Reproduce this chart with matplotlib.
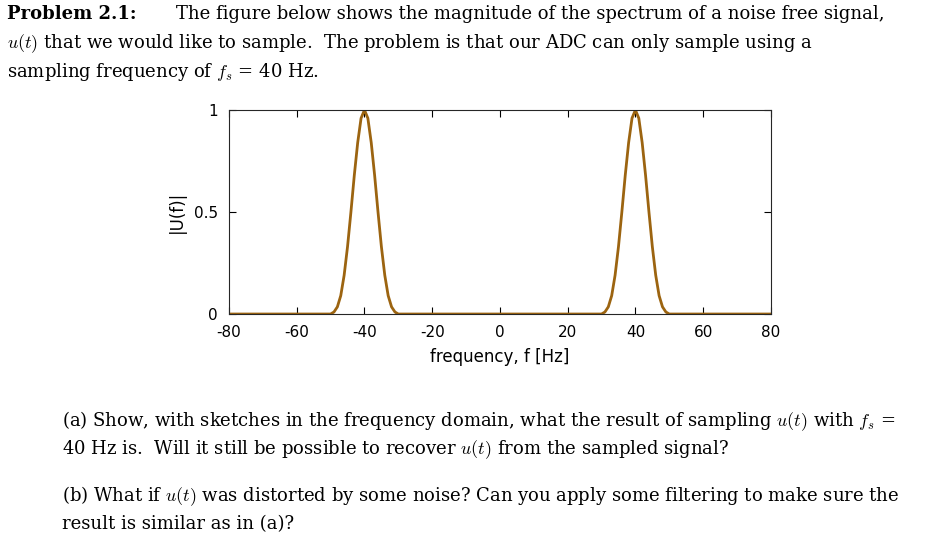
import matplotlib
matplotlib.use("Agg")
import matplotlib.pyplot as plt

freq = [-80, -50, -49, -48, -47, -46, -45, -44, -43, -42, -41, -40, -39, -38, -37, -36, -35, -34, -33, -32, -31, -30,
        30, 31, 32, 33, 34, 35, 36, 37, 38, 39, 40, 41, 42, 43, 44, 45, 46, 47, 48, 49, 50, 80]
mag = [0, 0, 0.01, 0.035, 0.09, 0.19, 0.33, 0.5, 0.68, 0.84, 0.96, 1.0, 0.96, 0.84, 0.68, 0.5, 0.33, 0.19, 0.09, 0.035, 0.01, 0,
       0, 0.01, 0.035, 0.09, 0.19, 0.33, 0.5, 0.68, 0.84, 0.96, 1.0, 0.96, 0.84, 0.68, 0.5, 0.33, 0.19, 0.09, 0.035, 0.01, 0, 0]
xticks = [-80, -60, -40, -20, 0, 20, 40, 60, 80]
yticks = [0, 0.5, 1]

plt.rcParams['mathtext.fontset'] = 'cm'
fig = plt.figure(figsize=(9.49, 5.43), dpi=100)
ax = fig.add_axes([0.2413, 0.4217, 0.571, 0.3757])
ax.plot(freq, mag, color='#9c6410', lw=2)
ax.set_xlim(-80, 80); ax.set_ylim(0, 1)
ax.set_xticks(xticks); ax.set_xticklabels([str(t) for t in xticks])
ax.set_yticks(yticks); ax.set_yticklabels(['0', '0.5', '1'])
ax.tick_params(direction='in', top=True, right=True, labelsize=11, length=5, pad=8)
for s in ax.spines.values():
    s.set_color('#262626'); s.set_linewidth(0.8)
ax.set_xlabel('frequency, f [Hz]', fontsize=12, labelpad=6)
ax.set_ylabel('|U(f)|', fontsize=12, labelpad=6)

ser = dict(family='DejaVu Serif', fontsize=13, va='center', ha='left')
fig.text(0.007, 1-14/543, 'Problem 2.1:', family='DejaVu Serif', fontsize=13, weight='bold', va='center', ha='left')
fig.text(0.185, 1-14/543, 'The figure below shows the magnitude of the spectrum of a noise free signal,', **ser)
fig.text(0.007, 1-44/543, r'$u(t)$ that we would like to sample.  The problem is that our ADC can only sample using a', **ser)
fig.text(0.007, 1-72/543, r'sampling frequency of $f_s$ = 40 Hz.', **ser)
fig.text(0.065, 1-421/543, r'(a) Show, with sketches in the frequency domain, what the result of sampling $u(t)$ with $f_s$ =', **ser)
fig.text(0.065, 1-450/543, r'40 Hz is.  Will it still be possible to recover $u(t)$ from the sampled signal?', **ser)
fig.text(0.065, 1-496/543, r'(b) What if $u(t)$ was distorted by some noise? Can you apply some filtering to make sure the', **ser)
fig.text(0.065, 1-524/543, r'result is similar as in (a)?', **ser)
fig.savefig('out.png', dpi=100)
